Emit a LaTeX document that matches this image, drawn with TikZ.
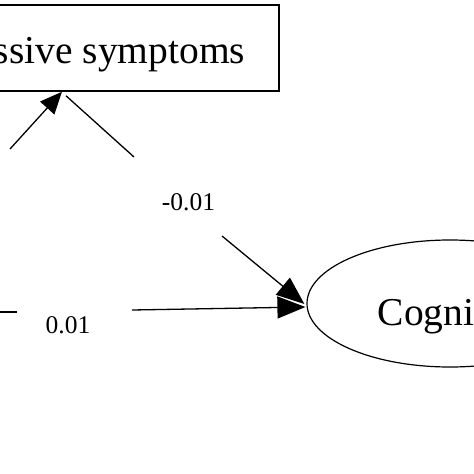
\documentclass[tikz,border=0pt]{standalone}
\usepackage{fontspec}
\setmainfont{Liberation Serif}
\usetikzlibrary{arrows.meta,shapes.geometric}
\begin{document}
\begin{tikzpicture}[x=1pt,y=-1pt,
  line width=1.3pt,
  arr/.style={-{Triangle[length=22pt,width=19pt]}},
  bigarr/.style={-{Triangle[length=28pt,width=22pt]}},
  big/.style={font=\fontsize{39.5}{47}\selectfont, inner sep=0pt},
  coef/.style={font=\fontsize{25.5}{30}\selectfont, inner sep=0pt},
  frame/.style={draw, line width=1.5pt, inner sep=0pt}]
\useasboundingbox (0,0) rectangle (474,474);
\clip (0,0) rectangle (474,474);
% nodes
\node[frame, minimum width=319pt, minimum height=86pt] (dep) at (119.5,48) {};
\node[big, anchor=base] (deplabel) at (119.6,63) {ssive symptoms};
\node[frame, line width=1.2pt, ellipse, minimum width=286pt, minimum height=127pt] (cog) at (450,303.5) {};
\node[big, anchor=base west] (coglabel) at (377,325) {Cognit};
\node[coef, anchor=base] (c1) at (188.5,210) {-0.01};
\node[coef, anchor=base] (c2) at (68,333) {0.01};
% anchor points
\path (dep.south) ++(-57.5,0) coordinate (dIn);
\path (dep.south) ++(-53.5,4) coordinate (dOut);
\path (cog.west) ++(-2,0.5) coordinate (cin1);
\path (cog.west) ++(-1,3.5) coordinate (cin2);
\coordinate (s1) at (10,149);
\coordinate (g1) at (134,157);
\coordinate (g2) at (222,236);
\coordinate (h0) at (-10,312);
\coordinate (h1) at (17,312);
\coordinate (h2) at (132,310);
% connectors
\draw[arr] (s1) -- (dIn);
\draw (dOut) -- (g1);
\draw[bigarr] (h2) -- (cin2);
\draw[bigarr] (g2) -- (cin1);
\draw (h0) -- (h1);
\end{tikzpicture}
\end{document}
